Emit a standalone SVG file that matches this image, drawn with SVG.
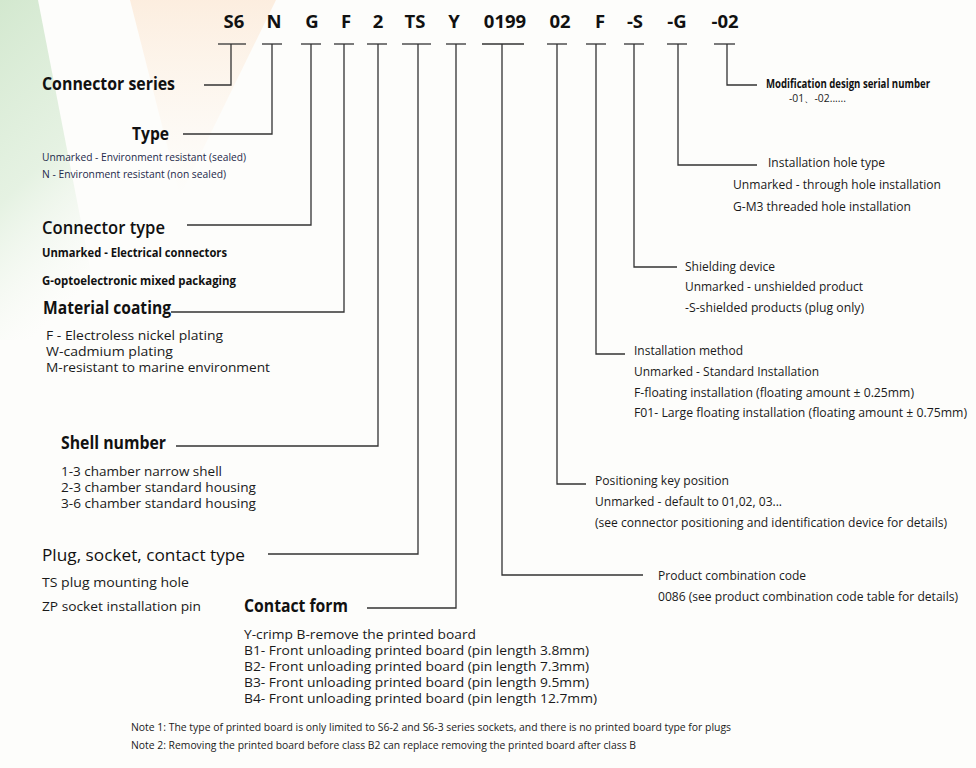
<svg xmlns="http://www.w3.org/2000/svg" width="976" height="768" viewBox="0 0 976 768">
<defs>
<linearGradient id="gGreen" x1="0" y1="0" x2="0.3" y2="1">
<stop offset="0" stop-color="#d3e8cf" stop-opacity="1"/>
<stop offset="0.55" stop-color="#ddeeda" stop-opacity="0.75"/>
<stop offset="1" stop-color="#eef6ec" stop-opacity="0"/>
</linearGradient>
<linearGradient id="gPeach" x1="0" y1="0" x2="0" y2="1">
<stop offset="0" stop-color="#fcecdc" stop-opacity="0.9"/>
<stop offset="1" stop-color="#fdf3e8" stop-opacity="0"/>
</linearGradient>
<style>
.code{font-family:"Open Sans","Noto Sans",sans-serif;font-weight:700;font-size:18.5px;fill:#111;text-anchor:middle}
.h{font-family:"Open Sans","Noto Sans",sans-serif;font-weight:700;font-size:17.5px;fill:#111}
.hs{font-family:"Open Sans","Noto Sans",sans-serif;font-weight:600;font-size:17.5px;fill:#111}
.hr{font-family:"Open Sans","Noto Sans",sans-serif;font-weight:400;font-size:16.5px;fill:#111}
.t{font-family:"Open Sans","Noto Sans",sans-serif;font-size:13.5px;fill:#1a1a1a}
.s{font-family:"Open Sans","Noto Sans",sans-serif;font-size:12.5px;fill:#1a1a1a}
.sn{font-family:"Open Sans","Noto Sans",sans-serif;font-size:10.5px;fill:#23284a}
.b{font-family:"Open Sans","Noto Sans",sans-serif;font-weight:700;font-size:12px;fill:#111}
.n{font-family:"Open Sans","Noto Sans",sans-serif;font-size:10px;fill:#1a1a1a}
.c{fill:none;stroke:#333;stroke-width:1.3}
.u{stroke:#333;stroke-width:1.3}
</style>
</defs>
<rect x="0" y="0" width="976" height="768" fill="#fdfdfb"/>
<g id="background">
<polygon points="0,0 38,0 104,340 0,340" fill="url(#gGreen)"/>
<polygon points="130,0 276,0 180,196" fill="url(#gPeach)"/>
</g>
<g id="code">
<text class="code" x="234" y="28">S6</text>
<text class="code" x="274" y="28">N</text>
<text class="code" x="312" y="28">G</text>
<text class="code" x="346" y="28">F</text>
<text class="code" x="378" y="28">2</text>
<text class="code" x="415" y="28">TS</text>
<text class="code" x="454" y="28">Y</text>
<text class="code" x="505" y="28">0199</text>
<text class="code" x="560" y="28">02</text>
<text class="code" x="600" y="28">F</text>
<text class="code" x="635" y="28">-S</text>
<text class="code" x="677" y="28">-G</text>
<text class="code" x="725" y="28">-02</text>
<line class="u" x1="218" y1="44" x2="246" y2="44"/>
<line class="u" x1="262" y1="44" x2="282" y2="44"/>
<line class="u" x1="301" y1="44" x2="321" y2="44"/>
<line class="u" x1="334" y1="44" x2="354" y2="44"/>
<line class="u" x1="367" y1="44" x2="387" y2="44"/>
<line class="u" x1="402" y1="44" x2="431" y2="44"/>
<line class="u" x1="446" y1="44" x2="466" y2="44"/>
<line class="u" x1="482" y1="44" x2="524" y2="44"/>
<line class="u" x1="547" y1="44" x2="567" y2="44"/>
<line class="u" x1="586" y1="44" x2="606" y2="44"/>
<line class="u" x1="624" y1="44" x2="644" y2="44"/>
<line class="u" x1="667" y1="44" x2="687" y2="44"/>
<line class="u" x1="714" y1="44" x2="735" y2="44"/>
</g>
<g id="connectors">
<polyline class="c" points="231,44 231,85 204,85"/>
<polyline class="c" points="272,44 272,134 183,134"/>
<polyline class="c" points="311,44 311,225 187,225"/>
<polyline class="c" points="344,44 344,312 171,312"/>
<polyline class="c" points="378,44 378,446 176,446"/>
<polyline class="c" points="418,44 418,554 268,554"/>
<polyline class="c" points="456,44 456,608 367,608"/>
<polyline class="c" points="502,44 502,575 643,575"/>
<polyline class="c" points="557,44 557,484 586,484"/>
<polyline class="c" points="596,44 596,354 625,354"/>
<polyline class="c" points="634,44 634,267 677,267"/>
<polyline class="c" points="678,44 678,165 757,165"/>
<polyline class="c" points="727,44 727,85 757,85"/>
</g>
<g id="connector-series">
<text class="h" x="42" y="90" textLength="133" lengthAdjust="spacingAndGlyphs">Connector series</text>
</g>
<g id="type">
<text class="h" x="132" y="140" font-size="18" textLength="37" lengthAdjust="spacingAndGlyphs">Type</text>
<text class="sn" x="42" y="161" textLength="204" lengthAdjust="spacingAndGlyphs">Unmarked - Environment resistant (sealed)</text>
<text class="sn" x="42" y="178" textLength="184" lengthAdjust="spacingAndGlyphs">N - Environment resistant (non sealed)</text>
</g>
<g id="connector-type">
<text class="hs" x="42" y="234" textLength="123" lengthAdjust="spacingAndGlyphs">Connector type</text>
<text class="b" x="42" y="257" textLength="185" lengthAdjust="spacingAndGlyphs">Unmarked - Electrical connectors</text>
<text class="b" x="42" y="285" textLength="194" lengthAdjust="spacingAndGlyphs">G-optoelectronic mixed packaging</text>
</g>
<g id="material-coating">
<text class="h" x="43" y="314" textLength="128" lengthAdjust="spacingAndGlyphs">Material coating</text>
<text class="t" x="46" y="340" textLength="177" lengthAdjust="spacingAndGlyphs">F - Electroless nickel plating</text>
<text class="t" x="46" y="356" textLength="127" lengthAdjust="spacingAndGlyphs">W-cadmium plating</text>
<text class="t" x="46" y="372" textLength="224" lengthAdjust="spacingAndGlyphs">M-resistant to marine environment</text>
</g>
<g id="shell-number">
<text class="h" x="61" y="449" textLength="105" lengthAdjust="spacingAndGlyphs">Shell number</text>
<text class="t" x="61" y="476" textLength="161" lengthAdjust="spacingAndGlyphs">1-3 chamber narrow shell</text>
<text class="t" x="61" y="492" textLength="195" lengthAdjust="spacingAndGlyphs">2-3 chamber standard housing</text>
<text class="t" x="61" y="508" textLength="195" lengthAdjust="spacingAndGlyphs">3-6 chamber standard housing</text>
</g>
<g id="plug-socket">
<text class="hr" x="42" y="561" textLength="203" lengthAdjust="spacingAndGlyphs">Plug, socket, contact type</text>
<text class="t" x="42" y="587" textLength="147" lengthAdjust="spacingAndGlyphs">TS plug mounting hole</text>
<text class="t" x="42" y="611" textLength="159" lengthAdjust="spacingAndGlyphs">ZP socket installation pin</text>
</g>
<g id="contact-form">
<text class="h" x="244" y="612" textLength="104" lengthAdjust="spacingAndGlyphs">Contact form</text>
<text class="t" x="244" y="639" textLength="232" lengthAdjust="spacingAndGlyphs">Y-crimp B-remove the printed board</text>
<text class="t" x="244" y="655" textLength="345" lengthAdjust="spacingAndGlyphs">B1- Front unloading printed board (pin length 3.8mm)</text>
<text class="t" x="244" y="671" textLength="345" lengthAdjust="spacingAndGlyphs">B2- Front unloading printed board (pin length 7.3mm)</text>
<text class="t" x="244" y="687" textLength="345" lengthAdjust="spacingAndGlyphs">B3- Front unloading printed board (pin length 9.5mm)</text>
<text class="t" x="244" y="703" textLength="353" lengthAdjust="spacingAndGlyphs">B4- Front unloading printed board (pin length 12.7mm)</text>
</g>
<g id="notes">
<text class="n" x="131" y="731" textLength="600" lengthAdjust="spacingAndGlyphs">Note 1: The type of printed board is only limited to S6-2 and S6-3 series sockets, and there is no printed board type for plugs</text>
<text class="n" x="131" y="749" textLength="505" lengthAdjust="spacingAndGlyphs">Note 2: Removing the printed board before class B2 can replace removing the printed board after class B</text>
</g>
<g id="modification">
<text class="b" x="766" y="88" font-size="11" textLength="164" lengthAdjust="spacingAndGlyphs">Modification design serial number</text>
<text class="n" x="789" y="102" font-family="'Open Sans','Noto Sans CJK SC',sans-serif" textLength="57" lengthAdjust="spacingAndGlyphs">-01、-02......</text>
</g>
<g id="installation-hole">
<text class="s" x="768" y="167" textLength="117" lengthAdjust="spacingAndGlyphs">Installation hole type</text>
<text class="s" x="733" y="189" textLength="208" lengthAdjust="spacingAndGlyphs">Unmarked - through hole installation</text>
<text class="s" x="733" y="211" textLength="178" lengthAdjust="spacingAndGlyphs">G-M3 threaded hole installation</text>
</g>
<g id="shielding">
<text class="s" x="685" y="271" textLength="90" lengthAdjust="spacingAndGlyphs">Shielding device</text>
<text class="s" x="685" y="291" textLength="178" lengthAdjust="spacingAndGlyphs">Unmarked - unshielded product</text>
<text class="s" x="685" y="312" textLength="179" lengthAdjust="spacingAndGlyphs">-S-shielded products (plug only)</text>
</g>
<g id="installation-method">
<text class="s" x="634" y="355" textLength="109" lengthAdjust="spacingAndGlyphs">Installation method</text>
<text class="s" x="634" y="376" textLength="185" lengthAdjust="spacingAndGlyphs">Unmarked - Standard Installation</text>
<text class="s" x="634" y="397" textLength="280" lengthAdjust="spacingAndGlyphs">F-floating installation (floating amount ± 0.25mm)</text>
<text class="s" x="634" y="417" textLength="333" lengthAdjust="spacingAndGlyphs">F01- Large floating installation (floating amount ± 0.75mm)</text>
</g>
<g id="positioning-key">
<text class="s" x="595" y="485" textLength="134" lengthAdjust="spacingAndGlyphs">Positioning key position</text>
<text class="s" x="595" y="506" textLength="187" lengthAdjust="spacingAndGlyphs">Unmarked - default to 01,02, 03...</text>
<text class="s" x="595" y="527" textLength="352" lengthAdjust="spacingAndGlyphs">(see connector positioning and identification device for details)</text>
</g>
<g id="product-combination">
<text class="s" x="658" y="580" textLength="148" lengthAdjust="spacingAndGlyphs">Product combination code</text>
<text class="s" x="658" y="601" textLength="300" lengthAdjust="spacingAndGlyphs">0086 (see product combination code table for details)</text>
</g>
</svg>
